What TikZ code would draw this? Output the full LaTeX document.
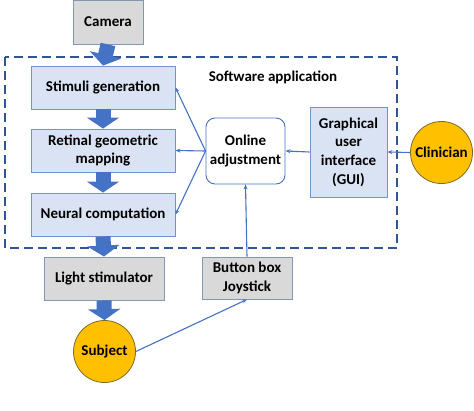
\documentclass[tikz,border=0pt]{standalone}
\usepackage{fontspec}
\setmainfont{Carlito}
\usetikzlibrary{arrows.meta}
\definecolor{abl}{HTML}{4472C4}
\definecolor{lbl}{HTML}{DAE3F3}
\definecolor{bbd}{HTML}{7393CC}
\definecolor{gry}{HTML}{D9D9D9}
\definecolor{gbd}{HTML}{8497B0}
\definecolor{ora}{HTML}{FFC000}
\definecolor{obd}{HTML}{7F6A2A}
\definecolor{dsh}{HTML}{2F5597}
\tikzset{
  txt/.style={font=\bfseries\fontsize{15}{18.6}\selectfont, align=center, inner sep=0pt},
  bluebox/.style={txt, draw=bbd, fill=lbl, line width=0.9pt},
  graybox/.style={txt, draw=gbd, fill=gry, line width=0.9pt},
  person/.style={txt, circle, draw=obd, fill=ora, line width=0.8pt, minimum size=62pt},
  bigarrow/.style={abl, line width=15pt, -{Triangle[width=32pt,length=11pt]}},
  thin/.style={abl, line width=1.1pt, -{Stealth[length=5pt,width=4pt]}},
}
\begin{document}
\begin{tikzpicture}[x=1pt,y=-1pt]
\useasboundingbox (0,0) rectangle (474,410);
% dashed software box
\draw[dsh, line width=1.3pt, dash pattern=on 9pt off 5pt] (5,57) rectangle (397,248);
\node[txt] (sw) at (273,77) {Software application};
% boxes
\node[graybox, minimum width=70pt, minimum height=44pt] (cam) at (108,22) {Camera};
\node[bluebox, minimum width=144pt, minimum height=43pt] (stim) at (103,87.5) {Stimuli generation};
\node[bluebox, minimum width=144pt, minimum height=43pt] (ret) at (103,150.5) {Retinal geometric\\mapping};
\node[bluebox, minimum width=144pt, minimum height=43pt] (neu) at (103,214.5) {Neural computation};
\node[graybox, minimum width=120pt, minimum height=43pt] (light) at (104,278.5) {Light stimulator};
\node[person] (subj) at (104.5,351.5) {Subject};
\node[graybox, minimum width=90pt, minimum height=42pt] (btn) at (247,278) {Button box\\Joystick};
\node[txt, draw=abl, fill=white, rounded corners=9pt, line width=0.9pt, minimum width=79pt, minimum height=66pt] (online) at (245.5,151) {Online\\adjustment};
\node[bluebox, minimum width=77pt, minimum height=90pt] (gui) at (348.5,152) {Graphical\\user\\interface\\(GUI)};
\node[person] (clin) at (441.5,152.5) {Clinician};
% block arrows
\draw[bigarrow] (cam.south) -- (stim.north);
\draw[bigarrow] (stim.south) -- (ret.north);
\draw[bigarrow] (ret.south) -- (neu.north);
\draw[bigarrow] (neu.south) -- (light.north);
\draw[bigarrow] (light.south) -- (subj.north);
% thin arrows
\draw[thin] (online.west) -- (stim.east);
\draw[thin] (online.west) -- (ret.east);
\draw[thin] (online.west) -- (neu.east);
\draw[thin] (gui.west) -- (online.east);
\draw[thin] (clin.west) -- (gui.east);
\draw[thin] (btn.north) -- (online.south);
\draw[thin] (subj.east) -- (btn.south);
\end{tikzpicture}
\end{document}
